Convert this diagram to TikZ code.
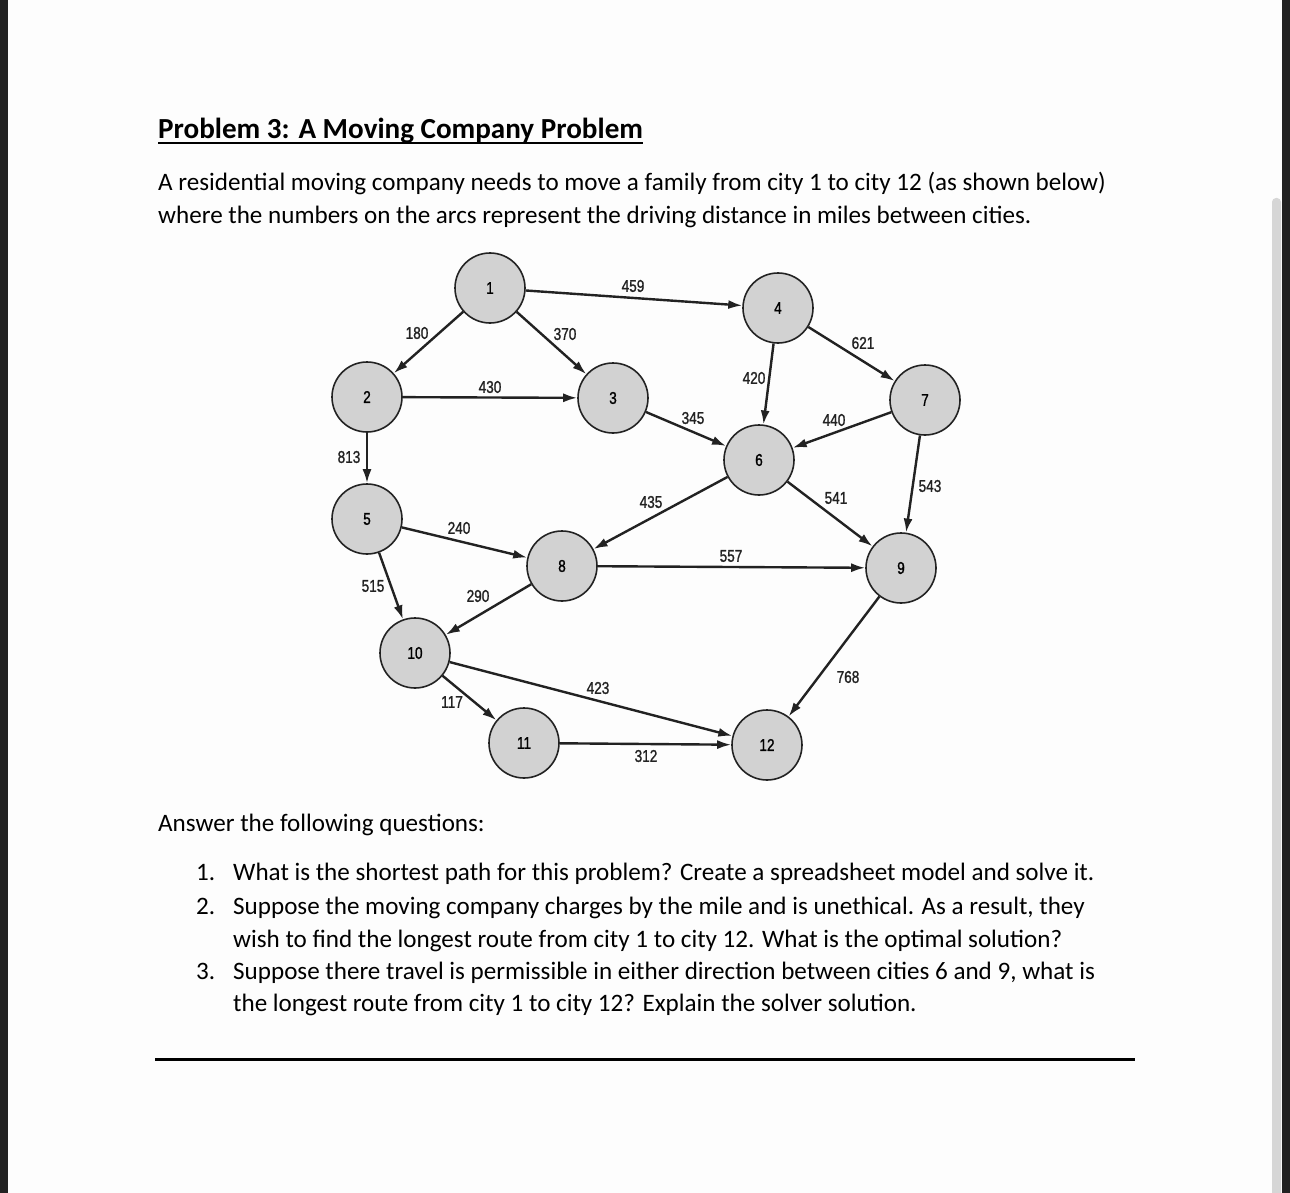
\documentclass[tikz,border=0pt]{standalone}
\usepackage{fontspec}
\usetikzlibrary{arrows.meta}
\setmainfont{Carlito}
\newfontfamily\arcfont[FakeStretch=0.8,FakeBold=1.2]{Liberation Sans}
\definecolor{pagewhite}{HTML}{FDFDFD}
\definecolor{frame}{HTML}{222222}
\definecolor{scrollgray}{HTML}{D6D6D6}
\definecolor{cityfill}{HTML}{D2D2D2}
\definecolor{arcink}{HTML}{222222}
\tikzset{
  city/.style={circle,draw=arcink,fill=cityfill,line width=1.6pt,minimum size=70pt,inner sep=0pt,font=\arcfont\fontsize{17}{17}\selectfont},
  arc/.style={-{Latex[length=14pt,width=9pt]},draw=arcink,line width=2.4pt},
  dist/.style={font=\arcfont\fontsize{17}{17}\selectfont,inner sep=1pt,text=arcink},
  prose/.style={anchor=base west,inner sep=0pt,font=\fontsize{25.1}{30}\selectfont}
}
\begin{document}
\begin{tikzpicture}[x=1pt,y=-1pt]
\useasboundingbox (0,0) rectangle (1290,1193);
\fill[pagewhite] (0,0) rectangle (1290,1193);
\fill[frame] (0,0) rectangle (8,1193);
\fill[frame] (1282,0) rectangle (1290,1193);
\fill[scrollgray,rounded corners=4pt] (1272,198) rectangle (1281,1210);
% heading and statement
\node[prose,font=\fontsize{29.1}{32}\selectfont\bfseries] (title) at (158,139) {Problem 3: A Moving Company Problem};
\draw[line width=2pt] ([yshift=-4pt]title.base west) -- ([yshift=-4pt]title.base east);
\node[prose] (lineA) at (158,191) {A residential moving company needs to move a family from city 1 to city 12 (as shown below)};
\node[prose] (lineB) at (158,223) {where the numbers on the arcs represent the driving distance in miles between cities.};
% the road network
\foreach \n/\x/\y in {1/490/288,2/367/397,3/613/398,4/778/308,5/367/519,6/759/460,7/925/400,8/562/566,9/901/568,10/415/653,11/524/743,12/767/745}{
  \node[city] (c\n) at (\x,\y) {\n};
}
\foreach \a/\b/\d/\lx/\ly in {1/2/180/417/333,1/3/370/565/334,1/4/459/633/286,2/3/430/490/387,2/5/813/349/457,3/6/345/693/418,4/6/420/754/378,4/7/621/863/343,7/6/440/834/420,7/9/543/930/486,6/8/435/651/502,6/9/541/836/498,5/8/240/459/528,5/10/515/373/586,8/10/290/478/596,8/9/557/731/556,10/11/117/452/702,10/12/423/598/688,11/12/312/646/756,9/12/768/848/677}{
  \draw[arc] (c\a) -- (c\b);
  \node[dist] (dist\a to\b) at (\lx,\ly) {\d};
}
% questions
\node[prose] (ask) at (158,831) {Answer the following questions:};
\foreach \y/\num/\txt in {880/1./{What is the shortest path for this problem? Create a spreadsheet model and solve it.},914/2./{Suppose the moving company charges by the mile and is unethical. As a result, they},979/3./{Suppose there travel is permissible in either direction between cities 6 and 9, what is}}{
  \node[prose] (num\y) at (196,\y) {\num};
  \node[prose] (item\y) at (233,\y) {\txt};
}
\node[prose] (itemB) at (233,947) {wish to find the longest route from city 1 to city 12. What is the optimal solution?};
\node[prose] (itemC) at (233,1011) {the longest route from city 1 to city 12? Explain the solver solution.};
\draw[line width=3pt] (155,1059) -- (1135,1059);
\end{tikzpicture}
\end{document}
